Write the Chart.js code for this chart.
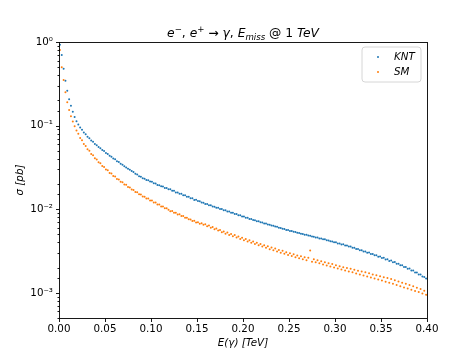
<!DOCTYPE html>
<html><head><meta charset="utf-8">
<script src="https://cdn.jsdelivr.net/npm/chart.js@4/dist/chart.umd.min.js"></script>
<style>html,body{margin:0;padding:0;background:#fff;}canvas{display:block;}</style>
</head><body>
<canvas id="c" width="474" height="355"></canvas>
<script>
// ---- data ----
const energies = [
0.001,0.003,0.005,0.007,0.009,0.011,0.013,0.015,0.017,0.019,
0.021,0.023,0.025,0.027,0.029,0.031,0.033,0.035,0.037,0.039,
0.041,0.043,0.045,0.047,0.049,0.051,0.053,0.055,0.057,0.059,
0.061,0.063,0.065,0.067,0.069,0.071,0.073,0.075,0.077,0.079,
0.081,0.083,0.085,0.087,0.089,0.091,0.093,0.095,0.097,0.099,
0.101,0.103,0.105,0.107,0.109,0.111,0.113,0.115,0.117,0.119,
0.121,0.123,0.125,0.127,0.129,0.131,0.133,0.135,0.137,0.139,
0.141,0.143,0.145,0.147,0.149,0.151,0.153,0.155,0.157,0.159,
0.161,0.163,0.165,0.167,0.169,0.171,0.173,0.175,0.177,0.179,
0.181,0.183,0.185,0.187,0.189,0.191,0.193,0.195,0.197,0.199,
0.201,0.203,0.205,0.207,0.209,0.211,0.213,0.215,0.217,0.219,
0.221,0.223,0.225,0.227,0.229,0.231,0.233,0.235,0.237,0.239,
0.241,0.243,0.245,0.247,0.249,0.251,0.253,0.255,0.257,0.259,
0.261,0.263,0.265,0.267,0.269,0.271,0.273,0.275,0.277,0.279,
0.281,0.283,0.285,0.287,0.289,0.291,0.293,0.295,0.297,0.299,
0.301,0.303,0.305,0.307,0.309,0.311,0.313,0.315,0.317,0.319,
0.321,0.323,0.325,0.327,0.329,0.331,0.333,0.335,0.337,0.339,
0.341,0.343,0.345,0.347,0.349,0.351,0.353,0.355,0.357,0.359,
0.361,0.363,0.365,0.367,0.369,0.371,0.373,0.375,0.377,0.379,
0.381,0.383,0.385,0.387,0.389,0.391,0.393,0.395,0.397,0.399
];
const kntValues = [
0.93,0.70,0.48,0.345,0.262,0.207,0.173,0.146,0.127,0.113,
0.1029,0.0948,0.0893,0.0828,0.0787,0.0736,0.0705,0.0663,0.0639,0.0603,
0.0584,0.0554,0.0537,0.0510,0.0496,0.0471,0.0459,0.0436,0.0425,0.0404,
0.0395,0.0375,0.0368,0.0349,0.0340,0.0327,0.0316,0.0305,0.0296,0.0286,
0.0278,0.0266,0.0261,0.0248,0.0245,0.0234,0.0232,0.0223,0.0222,0.0214,
0.0213,0.0204,0.0203,0.0195,0.0194,0.0188,0.0187,0.0180,0.0179,0.0173,
0.0173,0.0166,0.0166,0.0159,0.0159,0.0153,0.0153,0.0147,0.0147,0.0141,
0.0141,0.0135,0.0135,0.0129,0.0130,0.01250,0.01245,0.01200,0.01198,0.01155,
0.01158,0.01118,0.01115,0.01078,0.01072,0.01042,0.01040,0.01005,0.01003,0.00975,
0.00970,0.00940,0.00938,0.00908,0.00905,0.00878,0.00875,0.00848,0.00845,0.00820,
0.00817,0.00792,0.00790,0.00766,0.00765,0.00742,0.00740,0.00718,0.00716,0.00697,
0.00694,0.00676,0.00673,0.00656,0.00654,0.00638,0.00635,0.00620,0.00617,0.00602,
0.00598,0.00584,0.00582,0.00566,0.00564,0.00550,0.00549,0.00536,0.00534,0.00522,
0.00521,0.00508,0.00507,0.00495,0.00494,0.00484,0.00482,0.00472,0.00470,0.00459,
0.00458,0.00448,0.00447,0.00436,0.00436,0.00426,0.00424,0.00413,0.00412,0.00402,
0.00402,0.00390,0.00390,0.00379,0.00380,0.00368,0.00368,0.00357,0.00357,0.00345,
0.00345,0.00334,0.00334,0.00323,0.00324,0.00312,0.00313,0.00302,0.00303,0.00292,
0.00292,0.00281,0.00282,0.00271,0.00272,0.00261,0.00262,0.00251,0.00252,0.00241,
0.00243,0.00232,0.00233,0.00222,0.00223,0.00213,0.00214,0.00203,0.00204,0.00194,
0.00195,0.00185,0.00185,0.00175,0.00175,0.00166,0.00166,0.00157,0.00155,0.00148
];
const smValues = [
0.80,0.50,0.35,0.25,0.19,0.154,0.129,0.112,0.0984,0.0877,
0.0798,0.0712,0.0668,0.0603,0.0572,0.0522,0.0499,0.0458,0.0441,0.0406,
0.0393,0.0365,0.0354,0.0329,0.0320,0.0298,0.0292,0.0272,0.0267,0.0250,
0.0246,0.0230,0.0227,0.0213,0.0210,0.0198,0.0196,0.0184,0.0182,0.0172,
0.0170,0.0161,0.0160,0.0151,0.0150,0.0142,0.0141,0.0134,0.0134,0.0127,
0.0127,0.0120,0.0120,0.0114,0.0114,0.0108,0.0108,0.0103,0.0103,0.00985,
0.00945,0.00952,0.00905,0.00910,0.00865,0.00870,0.00828,0.00830,0.00790,0.00792,
0.00760,0.00755,0.00725,0.00728,0.00695,0.00700,0.00670,0.00680,0.00650,0.00660,
0.00625,0.00640,0.00600,0.00612,0.00578,0.00590,0.00555,0.00566,0.00530,0.00542,
0.00510,0.00525,0.00492,0.00505,0.00475,0.00490,0.00458,0.00472,0.00440,0.00455,
0.00425,0.00440,0.00410,0.00425,0.00398,0.00412,0.00385,0.00398,0.00370,0.00385,
0.00358,0.00372,0.00345,0.00360,0.00333,0.00348,0.00322,0.00338,0.00312,0.00325,
0.00302,0.00318,0.00293,0.00306,0.00284,0.00298,0.00276,0.00290,0.00266,0.00280,
0.00260,0.00274,0.00252,0.00266,0.00246,0.00262,0.00320,0.00236,0.00252,0.00232,
0.00246,0.00226,0.00238,0.00218,0.00232,0.00212,0.00226,0.00206,0.00221,0.00201,
0.00214,0.00196,0.00208,0.00190,0.00202,0.00185,0.00198,0.00180,0.00194,0.00176,
0.00189,0.00170,0.00184,0.00166,0.00180,0.00161,0.00176,0.00157,0.00172,0.00153,
0.00166,0.00148,0.00162,0.00144,0.00158,0.00140,0.00154,0.00136,0.00150,0.00132,
0.00146,0.00128,0.00141,0.00124,0.00137,0.00120,0.00132,0.00116,0.00128,0.00113,
0.00124,0.00109,0.00120,0.00105,0.00115,0.00102,0.00111,0.00098,0.00106,0.00095
];
const seriesNames = ['KNT', 'SM'];
const seriesColors = ['#1f77b4', '#ff7f0e'];
const xTickValues = [0, 0.05, 0.10, 0.15, 0.20, 0.25, 0.30, 0.35, 0.40];
const yRange = [5e-4, 1];

// ---- helpers ----
const FAM = 'DejaVu Sans';
const SUP = {'0':'⁰','1':'¹','2':'²','3':'³','4':'⁴','5':'⁵','6':'⁶','7':'⁷','8':'⁸','9':'⁹','-':'⁻'};
function isPow10(v){ const l = Math.log10(v); return Math.abs(l - Math.round(l)) < 1e-6; }
function pow10Label(v){ const e = String(Math.round(Math.log10(v))); return '10' + e.split('').map(c => SUP[c]).join(''); }

const decor = {
  id: 'decor',
  afterDatasetsDraw(chart) {
    const {ctx, chartArea: a, scales: {x, y}} = chart;
    ctx.save();
    // frame
    ctx.strokeStyle = '#000';
    ctx.lineWidth = 0.9;
    const L = Math.round(a.left) + 0.5, R = Math.round(a.right) + 0.5,
          T = Math.round(a.top) + 0.5, B = Math.round(a.bottom) + 0.5;
    ctx.strokeRect(L, T, R - L, B - T);
    // tick marks
    ctx.beginPath();
    x.ticks.forEach(t => {
      const px = Math.round(x.getPixelForValue(t.value)) + 0.5;
      ctx.moveTo(px, B); ctx.lineTo(px, B + 3.5);
    });
    y.ticks.forEach(t => {
      const py = Math.round(y.getPixelForValue(t.value)) + 0.5;
      const len = isPow10(t.value) ? 3.5 : 2;
      ctx.moveTo(L, py); ctx.lineTo(L - len, py);
    });
    ctx.stroke();

    // title (mathtext-like)
    const big = 12.3, small = 8.6;
    const parts = [
      {t:'e', f:`italic ${big}px "${FAM}"`, dy:0},
      {t:'−', f:`${small}px "${FAM}"`, dy:-5},
      {t:', ', f:`${big}px "${FAM}"`, dy:0},
      {t:'e', f:`italic ${big}px "${FAM}"`, dy:0},
      {t:'+', f:`${small}px "${FAM}"`, dy:-5},
      {t:' → ', f:`${big}px "${FAM}"`, dy:0},
      {t:'γ', f:`italic ${big}px "${FAM}"`, dy:0},
      {t:', ', f:`${big}px "${FAM}"`, dy:0},
      {t:'E', f:`italic ${big}px "${FAM}"`, dy:0},
      {t:'miss', f:`italic ${small}px "${FAM}"`, dy:2.5},
      {t:' @ 1 ', f:`${big}px "${FAM}"`, dy:0},
      {t:'TeV', f:`italic ${big}px "${FAM}"`, dy:0}
    ];
    let total = 0;
    parts.forEach(p => { ctx.font = p.f; p.w = ctx.measureText(p.t).width; total += p.w; });
    let cx = (a.left + a.right) / 2 - total / 2;
    ctx.fillStyle = '#000';
    ctx.textBaseline = 'alphabetic';
    ctx.textAlign = 'left';
    parts.forEach(p => { ctx.font = p.f; ctx.fillText(p.t, cx, 37 + p.dy); cx += p.w; });

    // legend box
    const bx = 362, by = 47, bw = 59, bh = 35, r = 3;
    ctx.beginPath();
    ctx.moveTo(bx + r, by); ctx.lineTo(bx + bw - r, by); ctx.arcTo(bx + bw, by, bx + bw, by + r, r);
    ctx.lineTo(bx + bw, by + bh - r); ctx.arcTo(bx + bw, by + bh, bx + bw - r, by + bh, r);
    ctx.lineTo(bx + r, by + bh); ctx.arcTo(bx, by + bh, bx, by + bh - r, r);
    ctx.lineTo(bx, by + r); ctx.arcTo(bx, by, bx + r, by, r);
    ctx.closePath();
    ctx.fillStyle = 'rgba(255,255,255,0.8)';
    ctx.fill();
    ctx.strokeStyle = '#d6d6d6';
    ctx.lineWidth = 1;
    ctx.stroke();
    chart.data.datasets.forEach((ds, i) => {
      const yy = 57 + i * 15;
      ctx.fillStyle = ds.backgroundColor;
      ctx.beginPath(); ctx.arc(378, yy, 1, 0, Math.PI * 2); ctx.fill();
      ctx.fillStyle = '#000';
      ctx.font = `italic 10.3px "${FAM}"`;
      ctx.textBaseline = 'middle';
      ctx.fillText(ds.label, 394, yy);
    });
    ctx.restore();
  }
};

const mk = vals => energies.map((e, i) => ({x: e, y: vals[i]}));

new Chart(document.getElementById('c'), {
  type: 'scatter',
  data: {
    datasets: [
      {label: seriesNames[0], data: mk(kntValues), backgroundColor: seriesColors[0], borderWidth: 0, pointRadius: 1, order: 1},
      {label: seriesNames[1], data: mk(smValues), backgroundColor: seriesColors[1], borderWidth: 0, pointRadius: 1, order: 0}
    ]
  },
  options: {
    responsive: false,
    animation: false,
    devicePixelRatio: 1,
    layout: {padding: {left: 0, top: 42, right: 47, bottom: 0}},
    plugins: {legend: {display: false}, title: {display: false}, tooltip: {enabled: false}},
    scales: {
      x: {
        type: 'linear', min: 0, max: 0.4,
        afterBuildTicks: s => { s.ticks = xTickValues.map(v => ({value: v})); },
        afterFit: s => { s.height = 37; },
        grid: {display: false, drawTicks: false},
        border: {display: false},
        ticks: {autoSkip: false, maxRotation: 0, padding: 5, color: '#000',
                font: {family: FAM, size: 10.3}, callback: v => Number(v).toFixed(2)},
        title: {display: true, text: 'E(γ) [TeV]', color: '#000',
                font: {family: FAM, size: 10.3, style: 'italic'}, padding: {top: 0, bottom: 5.5}}
      },
      y: {
        type: 'logarithmic', min: yRange[0], max: yRange[1],
        afterFit: s => { s.width = 59; },
        grid: {display: false, drawTicks: false},
        border: {display: false},
        ticks: {autoSkip: false, padding: 6, color: '#000',
                font: {family: FAM, size: 10.3},
                callback: v => isPow10(v) ? pow10Label(v) : ''},
        title: {display: true, text: 'σ [pb]', color: '#000',
                font: {family: FAM, size: 10.3, style: 'italic'}, padding: {top: 14, bottom: 0}}
      }
    }
  },
  plugins: [decor]
});
</script>
</body></html>
